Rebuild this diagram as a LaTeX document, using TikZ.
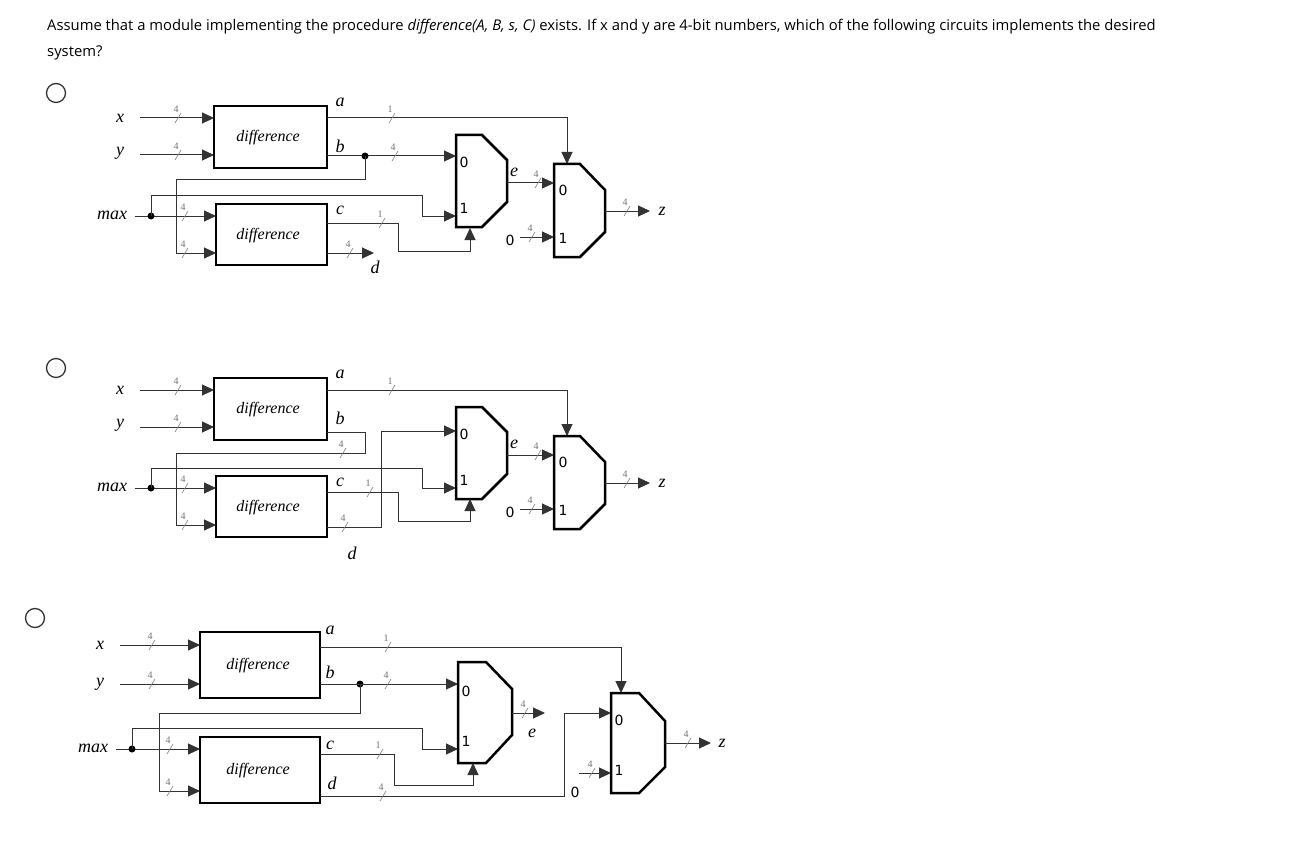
\documentclass[tikz,border=0pt]{standalone}
\usepackage{fontspec}
\setmainfont{Liberation Serif}
\newfontfamily\uisans{Open Sans}
\newfontfamily\muxsans{DejaVu Sans}
\usetikzlibrary{arrows.meta}
\tikzset{
 wire/.style={black!80,line width=1pt},
 arr/.style={wire,-{Triangle[length=12pt,width=11pt]},},
 blk/.style={draw=black,line width=2.5pt},
 lab/.style={font=\itshape\fontsize{18}{18}\selectfont,inner sep=0pt},
 difft/.style={font=\itshape\fontsize{16}{16}\selectfont,inner sep=0pt},
 mt/.style={font=\muxsans\fontsize{14}{14}\selectfont,inner sep=0pt},
 dotn/.style={circle,fill=black,inner sep=0pt,minimum size=7pt},
 radio/.style={circle,draw=black!80,line width=1.3pt,minimum size=19pt,inner sep=0pt}
}
\newcommand\busmk[3]{\draw[black!50,line width=0.6pt] (#1-3,#2+5)--(#1+3,#2-5);
 \node[black!55,font=\fontsize{10}{10}\selectfont,inner sep=0pt] at (#1-2,#2-9) {#3};}
\newcommand\muxdraw[7]{% left top right bottom cornerx bev1 bev2
 \draw[blk,line join=miter] (#1,#2)--(#5,#2)--(#3,#6)--(#3,#7)--(#5,#4)--(#1,#4)--cycle;}
\begin{document}
\begin{tikzpicture}[x=1pt,y=-1pt]
\useasboundingbox (0,0) rectangle (1292,845);
\node[anchor=west,font=\uisans\fontsize{14.8}{14.8}\selectfont,inner sep=0pt] (q1) at (47,27) {Assume that a module implementing the procedure \textit{difference(A, B, s, C)} exists. If x and y are 4-bit numbers, which of the following circuits implements the desired};
\node[anchor=west,font=\uisans\fontsize{14.8}{14.8}\selectfont,inner sep=0pt] (q2) at (47,53) {system?};
\node[radio] (r1) at (56,93) {};
\node[radio] (r2) at (56,368) {};
\node[radio] (r3) at (35,618) {};

% ---------- circuits 1 and 2 common ----------
\foreach \dy/\k in {0/1,272/2}{
\begin{scope}[yshift=-\dy pt]
 \node[lab] (x\k) at (120,118) {x};
 \node[lab] (y\k) at (120,153) {y};
 \node[lab] (m\k) at (112,215) {max};
 \draw[blk] (214,106) rectangle (327,168);
 \node[difft] (d1\k) at (268,138) {difference};
 \draw[blk] (216,204) rectangle (327,265);
 \node[difft] (d2\k) at (268,236) {difference};
 \draw[arr] (140,118)--(214,118); \busmk{178}{118}{4}
 \draw[arr] (140,155)--(214,155); \busmk{178}{155}{4}
 \draw[arr] (135,216)--(216,216); \busmk{185}{216}{4}
 \node[dotn] (md\k) at (151,216) {};
 \draw[arr] (151,216)--(151,196)--(422,196)--(422,216)--(456,216);
 \node[lab] at (340,102) {a};
 \node[lab] at (340,146) {b};
 \node[lab] at (340,210) {c};
 \draw[arr] (327,118)--(567,118)--(567,164); \busmk{392}{118}{1}
 \muxdraw{456}{135}{507}{227}{482}{160}{202}
 \muxdraw{554}{164}{605}{257}{580}{190}{232}
 \node[mt] at (464,162) {0}; \node[mt] at (464,208) {1};
 \node[mt] at (563,190) {0}; \node[mt] at (563,238) {1};
 \draw[arr] (507,183)--(554,183); \busmk{538}{183}{4}
 \node[lab] at (514,172) {e};
 \node[mt] at (510,240) {0};
 \draw[arr] (520,237)--(554,237); \busmk{532}{237}{4}
 \draw[arr] (605,211)--(650,211); \busmk{627}{211}{4}
 \node[lab] at (662,211) {z};
 \draw[arr] (176,253)--(216,253); \busmk{185}{253}{4}
\end{scope}}
% circuit 1 specific
\draw[arr] (327,156)--(456,156); \busmk{395}{156}{4}
\node[dotn] (bd1) at (365,156) {};
\draw[wire] (365,156)--(365,180)--(176,180)--(176,253);
\draw[arr] (327,223)--(398,223)--(398,251)--(470,251)--(470,228); \busmk{382}{223}{1}
\draw[arr] (327,253)--(374,253); \busmk{350}{253}{4}
\node[lab] at (375,267) {d};
% circuit 2 specific
\draw[wire] (327,432)--(365,432)--(365,453)--(176,453)--(176,525);
\busmk{343}{453}{4}
\draw[arr] (327,527)--(381,527)--(381,431)--(456,431); \busmk{345}{527}{4}
\draw[arr] (327,492)--(398,492)--(398,521)--(470,521)--(470,499); \busmk{370}{492}{1}
\node[lab] at (352,553) {d};

% ---------- circuit 3 ----------
\node[lab] (x3) at (100,645) {x};
\node[lab] (y3) at (100,684) {y};
\node[lab] (m3) at (93,748) {max};
\draw[blk] (200,632) rectangle (320,698);
\node[difft] (d13) at (258,666) {difference};
\draw[blk] (200,737) rectangle (320,803);
\node[difft] (d23) at (258,771) {difference};
\draw[arr] (120,645)--(200,645); \busmk{152}{645}{4}
\draw[arr] (120,684)--(200,684); \busmk{152}{684}{4}
\draw[arr] (116,749)--(200,749); \busmk{170}{749}{4}
\node[dotn] (md3) at (132,749) {};
\draw[arr] (132,749)--(132,728)--(422,728)--(422,749)--(458,749);
\node[dotn] (bd3) at (360,684) {};
\draw[arr] (320,684)--(458,684); \busmk{388}{684}{4}
\draw[arr] (360,684)--(360,713)--(159,713)--(159,791)--(200,791); \busmk{170}{791}{4}
\node[lab] at (330,630) {a};
\node[lab] at (330,672) {b};
\node[lab] at (330,745) {c};
\node[lab] at (332,783) {d};
\draw[arr] (320,647)--(621,647)--(621,693); \busmk{388}{647}{1}
\muxdraw{458}{662}{512}{763}{486}{689}{735}
\muxdraw{611}{693}{665}{793}{639}{721}{767}
\node[mt] at (466,691) {0}; \node[mt] at (466,741) {1};
\node[mt] at (619,720) {0}; \node[mt] at (619,770) {1};
\draw[arr] (512,713)--(545,713); \busmk{525}{713}{4}
\node[lab] at (532,733) {e};
\draw[arr] (320,754)--(394,754)--(394,785)--(473,785)--(473,763); \busmk{380}{754}{1}
\draw[arr] (320,796)--(564,796)--(564,713)--(611,713); \busmk{383}{796}{4}
\draw[arr] (579,773)--(611,773); \busmk{592}{773}{4}
\node[mt] at (575,792) {0};
\draw[arr] (665,743)--(711,743); \busmk{688}{743}{4}
\node[lab] at (722,743) {z};
\end{tikzpicture}
\end{document}
